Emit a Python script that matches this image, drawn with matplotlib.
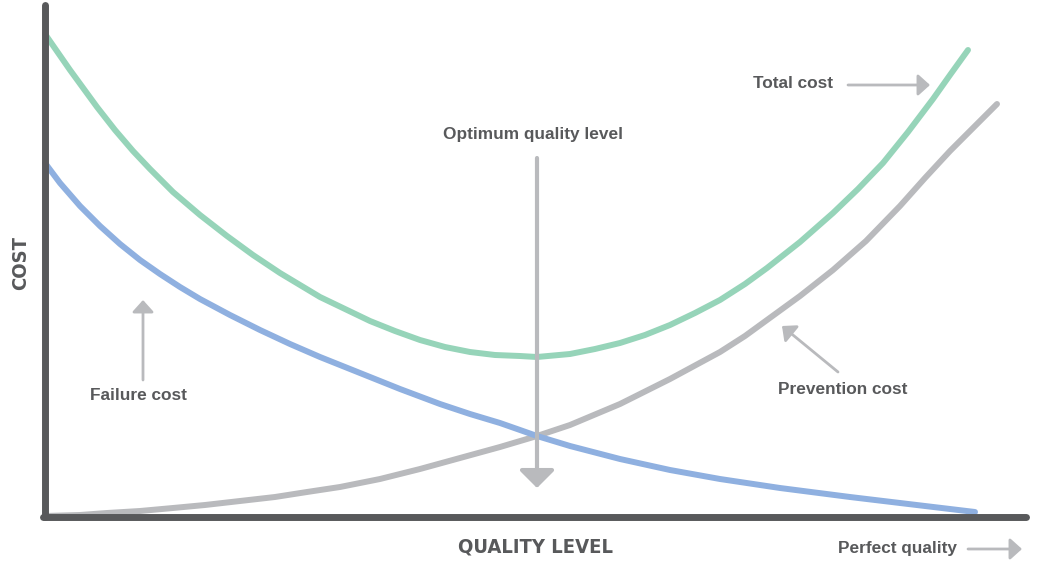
import numpy as np
import matplotlib.pyplot as plt

# quality level (x) and cost (y), arbitrary units
quality_failure = [0, 15, 35, 55, 75, 95, 115, 135, 155, 185, 215, 245, 275, 305, 335, 355, 395,
                   425, 455, 475, 492, 525, 575, 625, 675, 735, 805, 855, 905, 930]
cost_failure = [354, 334, 311, 291, 273, 257, 243, 230, 218, 202, 187, 173, 160, 148, 136, 128, 113,
                103, 94, 87, 81, 71, 58, 47, 38, 29, 20, 14, 8, 5]

quality_prevention = [0, 35, 62, 95, 128, 160, 195, 230, 262, 295, 335, 375, 415, 455, 492, 525, 575,
                      625, 675, 700, 722, 755, 788, 821, 855, 880, 905, 930, 952]
cost_prevention = [1, 2, 4, 6, 9, 12, 16, 20, 25, 30, 38, 48, 59, 70, 81, 92, 113,
                   138, 165, 181, 197, 221, 247, 276, 311, 339, 366, 391, 413]

quality_total = [0, 25, 52, 70, 88, 105, 128, 155, 182, 208, 235, 275, 300, 325, 350, 375, 400, 425,
                 450, 475, 492, 525, 550, 575, 600, 625, 650, 675, 700, 722, 755, 788, 813, 838, 863,
                 888, 905, 923]
cost_total = [483, 447, 410, 387, 366, 348, 325, 302, 281, 262, 244, 220, 208, 196, 186, 177, 170, 165,
              162, 161, 160, 163, 168, 174, 182, 192, 204, 217, 233, 249, 275, 304, 328, 354, 385,
              418, 442, 467]

GREEN = "#96d4b9"
BLUE = "#8fb0e0"
GREY = "#b9babd"
DARK = "#58595b"

plt.rcParams['font.family'] = ['Liberation Sans', 'DejaVu Sans']

fig = plt.figure(figsize=(10.4, 5.66), dpi=100)
ax = fig.add_axes([0, 0, 1, 1])
ax.set_xlim(-45, 995)
ax.set_ylim(-49, 517)

lw = 4.3
ax.plot(quality_total, cost_total, color=GREEN, lw=lw, solid_capstyle="round",
        solid_joinstyle="round", zorder=2)
ax.plot(quality_prevention, cost_prevention, color=GREY, lw=lw, solid_capstyle="round",
        solid_joinstyle="round", zorder=2)
ax.plot(quality_failure, cost_failure, color=BLUE, lw=lw, solid_capstyle="round",
        solid_joinstyle="round", zorder=2)

# axes lines
for side in ["top", "right"]:
    ax.spines[side].set_visible(False)
ax.spines["left"].set_position(("data", 0))
ax.spines["bottom"].set_position(("data", 0))
ax.spines["left"].set_bounds(0, 512)
ax.spines["bottom"].set_bounds(-2, 981)
for side in ["left", "bottom"]:
    ax.spines[side].set_color(DARK)
    ax.spines[side].set_linewidth(5)
    ax.spines[side].set_zorder(3)
    ax.spines[side].set_capstyle("round")
ax.set_xticks([])
ax.set_yticks([])

# optimum: where the total cost is lowest
opt_q = quality_total[int(np.argmin(cost_total))]
ax.annotate("", xy=(opt_q, 29), xytext=(opt_q, 359),
            arrowprops=dict(arrowstyle="-|>,head_length=0.54,head_width=0.54",
                            color=GREY, lw=3, mutation_scale=20, shrinkA=0, shrinkB=0),
            zorder=4)

label = dict(fontsize=12.4, fontweight="bold", color=DARK, va="center")
ax.text(opt_q - 4, 383, "Optimum quality level", ha="center", **label)

small_arrow = dict(arrowstyle="-|>,head_length=0.72,head_width=0.65",
                   color=GREY, lw=2, mutation_scale=10, shrinkA=0, shrinkB=0)

ax.annotate("", xy=(885, 432), xytext=(803, 432), arrowprops=small_arrow)
ax.text(708, 434, "Total cost", ha="left", **label)

ax.annotate("", xy=(737, 191), xytext=(793, 145), arrowprops=small_arrow)
ax.text(798, 128, "Prevention cost", ha="center", **label)

ax.annotate("", xy=(98, 217), xytext=(98, 137), arrowprops=small_arrow)
ax.text(93, 121, "Failure cost", ha="center", **label)

ax.annotate("", xy=(977, -32), xytext=(923, -32), arrowprops=small_arrow,
            annotation_clip=False)
ax.text(852, -32, "Perfect quality", ha="center", **label)

title = dict(fontsize=14.5, fontweight="bold", color=DARK, va="center",
             family=["DejaVu Sans"], fontstretch="condensed")
ax.text(491, -30, "QUALITY LEVEL", ha="center", **title)
ax.text(-24, 254, "COST", ha="center", rotation=90, **title)

fig.savefig("out.png", dpi=100, facecolor="white")
